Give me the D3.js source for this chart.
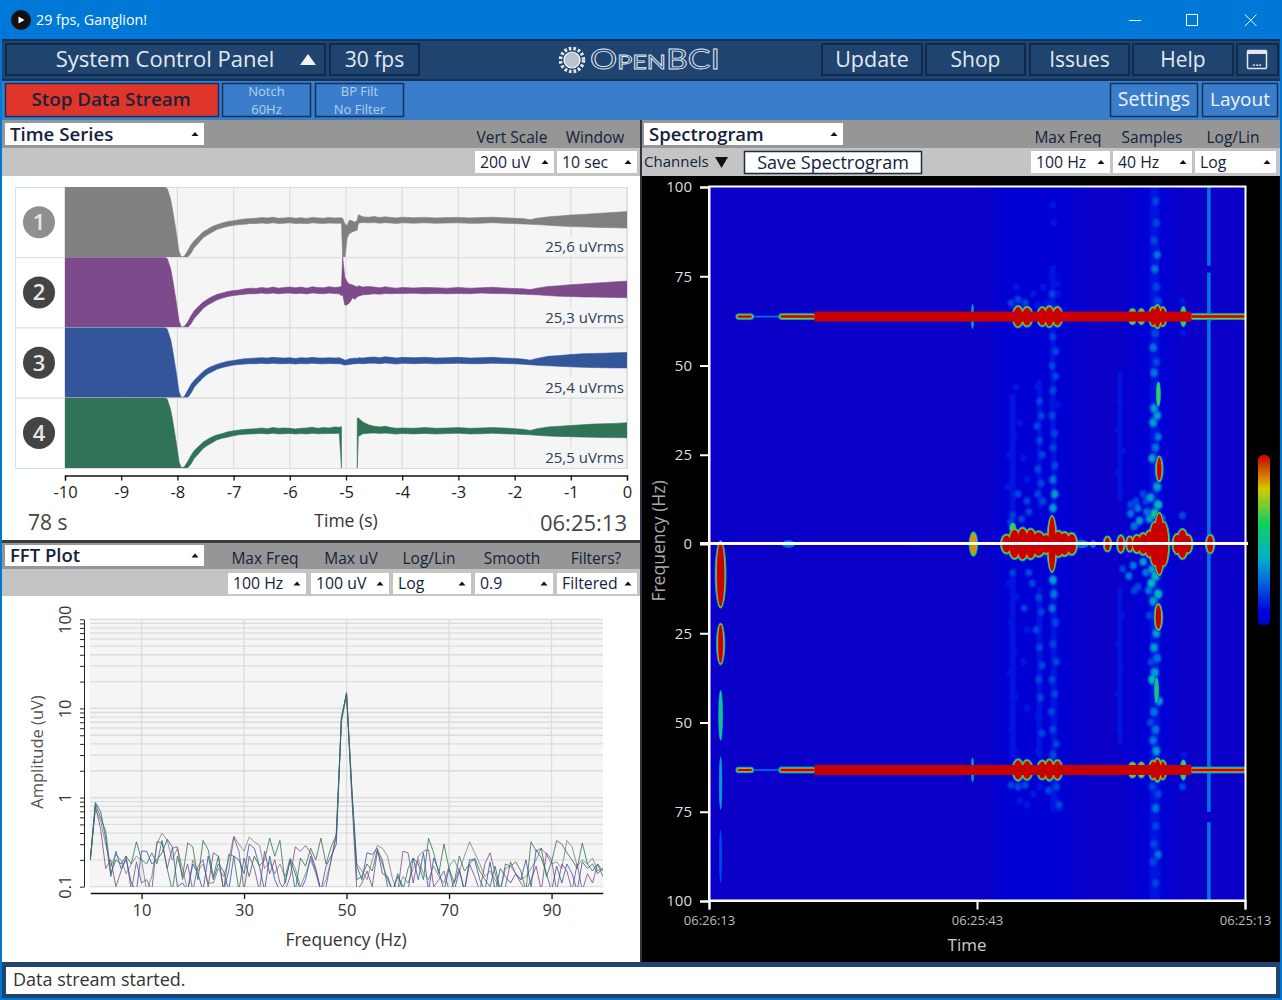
<!DOCTYPE html>
<html>
<head>
<meta charset="utf-8">
<title>29 fps, Ganglion!</title>
<style>
  html, body { margin: 0; padding: 0; background: #fff; }
  svg { display: block; }
  text { font-family: "Open Sans", sans-serif; }
</style>
<script src="https://d3js.org/d3.v7.min.js"></script>
</head>
<body>
<div id="app"></div>
<script>
  // ---- time series: seconds, then min/max envelope of each channel in uV
  const tsTimes = [-10,-8.22,-8.18,-8.12,-8.08,-8.02,-7.97,-7.93,-7.88,-7.82,
    -7.76,-7.7,-7.62,-7.54,-7.46,-7.38,-7.3,-7.2,-7.1,-7,
    -6.9,-6.8,-6.7,-6.6,-6.5,-6.4,-6.3,-6.2,-6.1,-6,
    -5.9,-5.8,-5.7,-5.6,-5.5,-5.4,-5.3,-5.2,-5.12,-5.08,
    -5.06,-5.02,-4.98,-4.94,-4.88,-4.84,-4.8,-4.78,-4.7,-4.6,
    -4.5,-4.4,-4.3,-4.2,-4.1,-4,-3.8,-3.6,-3.4,-3.2,
    -3,-2.8,-2.6,-2.4,-2.2,-2,-1.85,-1.72,-1.6,-1.4,
    -1.2,-1,-0.8,-0.6,-0.4,-0.2,0];
  const ch1Upper = [200,200,190,130,60,-60,-170,-198,-195,-165,
    -130,-105,-80,-55,-40,-25,-15,-5,4,8,
    14,18,20,22,26,24,28,22,24,26,
    22,25,21,27,24,22,26,23,25,24,
    22,-10,-20,12,5,0,10,42,30,28,
    32,26,30,27,24,28,25,27,24,26,
    27,24,26,28,25,22,20,14,22,30,
    35,40,44,48,52,56,60];
  const ch1Lower = [-200,-200,-200,-200,-200,-200,-200,-200,-200,-200,
    -178,-145,-118,-88,-72,-57,-42,-32,-24,-18,
    -14,-12,-8,-8,-5,-8,-4,-8,-6,-4,
    -8,-6,-9,-4,-6,-8,-5,-7,-6,-6,
    -200,-200,-90,-65,-55,-50,-45,-6,-2,-4,
    -2,-6,-3,-5,-8,-4,-6,-4,-7,-5,
    -4,-7,-6,-3,-6,-8,-10,-12,-14,-18,
    -22,-25,-27,-29,-31,-32,-34];
  const ch2Upper = [200,200,192,135,65,-55,-165,-198,-195,-170,
    -135,-105,-78,-55,-38,-24,-12,-3,5,10,
    14,20,24,22,28,24,30,24,28,30,
    26,30,24,32,28,26,32,28,30,34,
    200,84,60,48,42,36,30,38,30,34,
    30,26,32,27,24,28,25,28,26,24,
    28,24,26,29,25,22,20,16,24,34,
    38,44,48,52,56,60,64];
  const ch2Lower = [-200,-200,-200,-200,-200,-200,-200,-200,-200,-200,
    -180,-148,-120,-90,-72,-58,-44,-32,-24,-18,
    -14,-10,-8,-8,-4,-8,-4,-8,-5,-4,
    -8,-5,-9,-3,-6,-8,-4,-7,-8,-20,
    -10,-73,-70,-60,-30,-40,-25,-22,-14,-12,
    -8,-10,-6,-8,-6,-7,-5,-8,-6,-8,
    -6,-8,-4,-6,-7,-9,-10,-12,-14,-18,
    -22,-24,-26,-27,-28,-29,-30];
  const ch3Upper = [200,200,190,132,62,-58,-168,-198,-195,-160,
    -125,-100,-75,-50,-32,-20,-10,0,8,12,
    18,22,24,26,28,26,30,28,26,28,
    24,28,26,30,27,26,28,26,28,24,
    20,14,16,22,24,26,24,28,26,30,
    32,28,34,30,26,30,28,30,26,28,
    30,26,28,30,26,24,20,14,24,36,
    40,46,50,52,54,56,58];
  const ch3Lower = [-200,-200,-200,-200,-200,-200,-200,-200,-200,-200,
    -175,-140,-112,-85,-65,-52,-38,-28,-20,-14,
    -10,-8,-6,-6,-4,-6,-3,-6,-6,-5,
    -8,-5,-7,-3,-6,-7,-5,-6,-6,-8,
    -12,-14,-12,-10,-8,-6,-6,-5,-6,-4,
    -3,-6,-2,-5,-8,-4,-6,-4,-7,-5,
    -4,-6,-6,-3,-5,-7,-9,-12,-15,-18,
    -21,-24,-26,-28,-29,-30,-30];
  const ch4Upper = [200,200,191,133,63,-56,-166,-198,-195,-165,
    -130,-100,-76,-52,-36,-22,-12,-4,6,12,
    16,20,22,24,28,24,30,26,28,26,
    22,26,28,32,26,30,28,34,32,36,
    null,null,null,null,null,null,84,85,62,46,
    38,34,38,30,26,28,26,30,26,28,
    30,26,28,30,28,24,20,14,24,34,
    38,42,46,50,52,54,58];
  const ch4Lower = [-200,-200,-200,-200,-200,-200,-200,-200,-200,-200,
    -178,-145,-118,-88,-70,-56,-40,-30,-24,-16,
    -10,-8,-6,-5,-3,-6,-2,-6,-5,-3,
    -6,-4,-6,-2,-5,-4,-3,-4,-2,-200,
    null,null,null,null,null,null,-200,-20,-5,-2,
    0,-3,-1,-4,-7,-3,-6,-3,-6,-4,
    -2,-6,-5,-2,-5,-7,-9,-11,-14,-18,
    -20,-22,-24,-25,-26,-27,-28];
  const channelNames = ["1","2","3","4"];
  const channelColors = ["#808080","#7d4a8b","#33569b","#317357"];
  const channelBadges = ["#8f8f8f","#444444","#444444","#444444"];
  const rmsLabels = ["25,6 uVrms","25,3 uVrms","25,4 uVrms","25,5 uVrms"];
  const tsTicks = [-10,-9,-8,-7,-6,-5,-4,-3,-2,-1,0];

  // ---- FFT: amplitude in uV per 1 Hz bin, anything under 0.1 falls off the plot
  const fftFreqs = [0,1,2,3,4,5,6,7,8,9,10,11,12,13,14,15,16,17,18,19,20,21,22,23,24,25,26,27,28,29,
    30,31,32,33,34,35,36,37,38,39,40,41,42,43,44,45,46,47,48,49,50,51,52,53,54,55,56,57,58,59,
    60,61,62,63,64,65,66,67,68,69,70,71,72,73,74,75,76,77,78,79,80,81,82,83,84,85,86,87,88,89,
    90,91,92,93,94,95,96,97,98,99,100];
  const fftCh1 = [.2,.75,.55,.3,.17,.23,.2,.14,.18,.22,
    .2,.09,.13,.3,.4,.33,.2,.27,.16,.09,
    .2,.15,.18,.11,.11,.16,.13,.2,.37,.3,
    .25,.36,.32,.29,.16,.19,.14,.18,.13,.21,
    .16,.1,.14,.2,.14,.09,.12,.2,.36,7,
    14,1.2,.18,.15,.12,.2,.29,.27,.22,.12,
    .09,.13,.11,.16,.2,.14,.12,.17,.13,.11,
    .17,.2,.15,.22,.32,.24,.18,.13,.15,.12,
    .09,.16,.17,.14,.12,.13,.16,.2,.27,.23,
    .18,.19,.16,.33,.28,.17,.2,.18,.21,.15,.16];
  const fftCh2 = [.2,.8,.45,.16,.2,.1,.15,.22,.09,.19,
    .11,.12,.09,.32,.31,.16,.27,.28,.12,.18,
    .09,.17,.2,.1,.24,.22,.09,.15,.36,.25,
    .09,.22,.16,.09,.25,.14,.2,.11,.09,.13,
    .28,.25,.29,.24,.16,.09,.1,.2,.4,7.5,
    15,1.1,.09,.11,.15,.1,.25,.18,.12,.09,
    .09,.25,.24,.11,.22,.25,.26,.1,.12,.15,
    .09,.11,.16,.09,.18,.13,.09,.18,.24,.14,
    .09,.1,.19,.14,.11,.09,.12,.17,.09,.24,
    .2,.09,.18,.15,.09,.18,.09,.14,.11,.18,.15];
  const fftCh3 = [.2,.88,.7,.35,.13,.25,.16,.2,.11,.09,
    .25,.25,.18,.2,.24,.34,.28,.1,.11,.09,
    .18,.14,.09,.22,.12,.18,.15,.09,.22,.2,
    .14,.3,.27,.17,.09,.22,.12,.09,.11,.2,
    .14,.09,.12,.22,.15,.09,.17,.22,.3,8,
    14.5,1.3,.17,.12,.24,.23,.27,.14,.13,.09,
    .13,.1,.09,.21,.12,.24,.09,.21,.15,.09,
    .16,.09,.15,.09,.2,.2,.12,.09,.19,.09,
    .16,.13,.11,.14,.12,.2,.1,.26,.21,.14,
    .09,.17,.11,.18,.14,.09,.19,.16,.18,.14,.16];
  const fftCh4 = [.2,.85,.6,.42,.14,.2,.18,.22,.18,.32,
    .2,.18,.24,.18,.33,.16,.09,.22,.13,.31,
    .28,.12,.33,.26,.13,.22,.09,.23,.22,.09,
    .21,.13,.22,.17,.2,.35,.22,.33,.11,.2,
    .09,.21,.17,.27,.2,.35,.18,.28,.38,7.8,
    15,1.4,.12,.13,.18,.15,.26,.2,.1,.09,
    .14,.09,.16,.21,.18,.12,.35,.24,.14,.3,
    .16,.11,.22,.15,.18,.21,.15,.12,.1,.17,
    .09,.18,.17,.19,.15,.09,.32,.25,.27,.13,
    .19,.33,.3,.24,.2,.16,.31,.18,.15,.18,.13];
  const fftXTicks = [10,30,50,70,90];
  const fftYMajor = [0.1,1,10,100];
  const fftYMinor = [.2,.3,.4,.5,.6,.7,.8,.9,2,3,4,5,6,7,8,9,20,30,40,50,60,70,80,90];

  // ---- spectrogram, read off by eye. t = seconds from the left edge, hz signed (top half +, bottom half -)
  // [t0, t1, hz, halfHz] full power line noise
  const solidBands = [[11.8,54,63.7,1.4],[11.8,54,-63.3,1.4]];
  // [t0, t1, hz, halfHz, level]
  const thinBands = [
    [3.2,4.8,63.7,.3,1],[4.8,8,63.7,.12,.32],[8,11.8,63.7,.35,1],[54,60,63.7,.35,1],
    [3.2,4.8,-63.3,.3,1],[4.8,8,-63.3,.12,.32],[8,11.8,-63.3,.35,1],[54,60,-63.3,.35,1]];
  // [t, hz, halfT, halfHz, level]
  const blobs = [
    // lumps on the 63 Hz line
    [34.6,63.7,.5,2.7,1],[35.6,63.7,.5,2.5,1],[37.3,63.7,.45,2.4,1],[38.1,63.7,.45,2.7,1],[39,63.7,.45,2.5,1],
    [50.2,63.7,.35,3,1],[49.7,63.7,.35,2.4,1],[50.8,63.7,.3,2.4,1],[47.4,63.7,.35,1.9,.9],[48.4,63.7,.3,1.9,.9],
    [53.1,63.7,.25,2.6,.72],[29.5,63.7,.12,3.4,.4],[56,63.7,.3,1.4,.35],
    [34.6,-63.3,.5,2.7,1],[35.6,-63.3,.5,2.5,1],[37.3,-63.3,.45,2.4,1],[38.1,-63.3,.45,2.7,1],[39,-63.3,.45,2.5,1],
    [50.2,-63.3,.35,3,1],[49.7,-63.3,.35,2.4,1],[50.8,-63.3,.3,2.4,1],[47.4,-63.3,.35,1.9,.9],[48.4,-63.3,.3,1.9,.9],
    [53.1,-63.3,.25,2.6,.72],[29.5,-63.3,.12,3.4,.4],[56,-63.3,.3,1.4,.35],
    // around 0 Hz, scalloped mass
    [33.3,0,.5,2.4,1],[34.2,0,.6,3.9,1],[35.1,0,.6,4.3,1],[36,0,.6,4,1],[36.9,0,.7,3.3,1],[37.7,0,.6,2.5,1],
    [38.4,0,.4,7.6,1],[39.1,0,.6,3.4,1],[39.8,0,.6,3.1,1],[40.6,0,.5,2.8,1],
    [49.9,0,.55,6,1],[50.4,0,.5,8.5,1],[50.9,0,.5,6,1],[49.3,0,.5,3.5,1],[48.6,0,.5,2.8,1],[47.9,0,.45,2.3,1],
    [53,0,.55,3.9,1],[52.4,0,.4,2.6,1],[53.6,0,.4,2.4,1],[56.1,0,.35,2.4,1],
    [29.6,0,.3,3,.95],[44.6,0,.3,1.8,1],[46.1,0,.3,2.2,1],[47.1,0,.3,1.9,1],[8.9,0,.7,1,.3],
    [41.6,0,.9,1.1,.35],[43,0,.3,1,.3],[34,4.5,.25,1.2,.7],[23,0,.5,.6,.16],
    // column of lobes at the far left, bottom half only
    [1.3,-8.5,.42,9,1],[1.3,-28,.28,5.4,1],[1.3,-48,.14,6.8,.62],[1.3,-67,.14,7.4,.36],[1.3,-87.5,.14,7.4,.26],
    // hot spots in the 50 s column
    [50.4,21,.25,3.2,1],[50.3,-20.5,.3,3.4,1],[50.3,42,.15,3.2,.66],[50.1,-41,.16,3.4,.62]];
  // [t, hz, level] small speckle in the vertical streaks
  const speckles = [
    [50,96,.24],[50.1,90,.22],[49.8,85,.26],[50.2,81,.28],[49.9,77,.28],[50.1,72,.22],[50.3,68,.26],[50,59,.26],
    [49.7,55,.28],[50.1,51,.26],[49.8,48,.34],[49.8,38,.36],[50.2,36,.38],[49.7,34,.38],[50.3,30,.28],[50,27,.28],
    [49.6,24,.38],[50.2,16,.44],[49.4,13,.38],[50.3,11,.5],[49.9,8.5,.55],[50.6,7,.45],[48,10,.3],[47.2,8.5,.3],
    [48.2,6.5,.36],[47.6,5,.34],[48.9,12,.26],[49.3,7,.36],[53,8,.26],[47.8,12,.26],[47.2,11,.24],[48.6,14,.24],[49,9,.32],
    [50,-9,.5],[49.5,-11,.45],[50.3,-14,.5],[49.7,-16,.4],[50.1,-25,.36],[49.8,-29,.38],[50.2,-32,.34],[49.9,-36,.4],
    [49.6,-38,.45],[50.4,-44,.38],[49.8,-47,.32],[50,-52,.3],[49.7,-55,.34],[50.1,-58,.38],[50.3,-70,.26],[50,-74,.28],
    [49.8,-84,.26],[50.3,-87,.3],[49.7,-89,.24],[50,-95,.2],[47.5,-6,.3],[47,-9,.28],[48,-12,.26],[46.3,-7,.2],
    [48.6,-5,.36],[48.9,-8,.3],[47.6,-13,.24],[49.2,-13,.3],[49.6,-7,.4],[49.3,-20,.22],[49.5,-33,.24],[49.4,-50,.22],[49.6,-68,.22],[50,-79,.2],
    [38.5,95,.13],[38.6,90,.13],[38.4,75,.16],[39,70,.16],[38.5,58,.2],[38.8,54,.22],[38.4,50,.22],[38.8,47,.2],
    [38.5,43,.24],[39,39,.18],[38.4,36,.22],[38.7,31,.24],[38.5,27,.24],[38.7,22,.26],[38.5,18,.3],[38.7,14,.38],[38.5,10,.4],
    [38.5,-10,.4],[38.6,-14,.34],[38.4,-18,.28],[38.8,-22,.24],[38.5,-28,.24],[38.9,-33,.22],[38.4,-38,.22],[38.7,-42,.22],
    [38.3,-47,.22],[38.5,-52,.22],[38.9,-56,.2],[38.5,-59,.24],[38.9,-68,.22],[39.2,-73,.2],
    [36.8,44,.18],[37,40,.2],[37.2,36,.2],[36.7,33,.2],[37,29,.2],[37.3,25,.2],[36.8,21,.22],[37.2,17,.2],[36.8,14,.2],[37.4,12,.22],
    [36.9,-15,.2],[37.2,-19,.2],[36.6,-24,.2],[37,-29,.2],[37.3,-34,.2],[36.9,-38,.2],[37.1,-43,.2],[36.8,-48,.18],[37.3,-53,.2],[36.9,-58,.18],
    [34,38,.15],[34.2,30,.15],[33.6,25,.15],[34,20,.17],[33.5,16,.15],[34.6,14,.2],[35.6,12,.2],[34,8,.2],[33.8,6,.26],[35,7,.22],
    [35.8,9,.24],[35.6,18,.18],[35.2,24,.17],[34.8,34,.15],[34.4,44,.14],
    [34,-8,.2],[33.6,-11,.18],[34.4,-15,.17],[35.3,-18,.2],[33.8,-22,.17],[34.2,-30,.15],[33.7,-36,.15],[34.3,-43,.15],[33.8,-52,.15],[34.2,-58,.17],
    [35.8,-8,.24],[36.2,-11,.22],[35.6,-24,.17],[35.2,-33,.17],[35.6,-46,.17],
    [46,40,.13],[45.8,32,.13],[46.3,26,.13],[45.8,20,.14],[46,15,.14],[46.2,-20,.14],[45.8,-28,.14],[46.1,-35,.14],[45.8,-42,.13],[46,-52,.13],
    [33.8,67.5,.2],[34.6,68.5,.24],[35.4,67.5,.26],[36.3,70,.17],[36.8,67,.18],[37.8,67.5,.18],[38.4,70,.2],[39,73,.15],[37.4,72,.14],[34.4,72,.14],
    [33.8,-67.5,.2],[34.6,-68,.26],[35.4,-67.5,.26],[36.3,-70,.17],[37,-68,.18],[38,-69,.2],[38.8,-72,.17],[39.3,-74,.15],[34.8,-72,.15],[35.6,-73,.14],
    [50.2,68,.26],[53,68,.18],[53.1,59,.18],[53,-68,.2],[53.2,-59,.18]];
  // [t, hz0, hz1, halfT, level] thin full height streaks
  const lineStreaks = [[55.95,78,100,.17,.3],[55.95,1,76,.17,.3],[55.95,-1,-75,.17,.3],[55.95,-78,-100,.17,.3]];
  const softStreaks = [[49.9,4,100,.5,.16],[49.9,-4,-100,.55,.16],[38.5,30,78,.3,.13],[38.6,10,30,.3,.14],[38.6,-10,-75,.35,.14],
    [37,10,46,.3,.125],[37,-12,-60,.35,.125],[34,8,42,.3,.125],[34,-8,-60,.3,.125],[46,12,48,.25,.12],[46,-12,-56,.25,.12]];
  // [t0, t1, level] faint lifts of the background
  const washes = [[32,41,.035],[47,52,.04]];
  const specLevels = [.12,.2,.28,.36,.45,.55,.65,.75,.85,1];
  const colorStops = [0,.08,.25,.4,.6,.8,1];
  const colorRange = ["#0a00c8","#0000e0","#0064e0","#00b4c8","#10d060","#d8c800","#c80000"];
  const specYTicks = [100,75,50,25,0,-25,-50,-75,-100];
  const specXTicks = [0,30,60];
  const specXLabels = ["06:26:13","06:25:43","06:25:13"];

  const tsUpper = [ch1Upper,ch2Upper,ch3Upper,ch4Upper];
  const tsLower = [ch1Lower,ch2Lower,ch3Lower,ch4Lower];
  const fftSeries = [fftCh1,fftCh2,fftCh3,fftCh4];

  const svg = d3.select("#app").append("svg").attr("width",1282).attr("height",1000);
  const defs = svg.append("defs");
  const ink = "#13233c";

  function box(x,y,w,h,fill,stroke,sw) {
    return svg.append("rect").attr("x",x).attr("y",y).attr("width",w).attr("height",h)
      .attr("fill",fill).attr("stroke",stroke||"none").attr("stroke-width",sw||0);
  }
  function label(x,y,s,size,fill,anchor,weight,parent) {
    return (parent||svg).append("text").attr("x",x).attr("y",y).text(s)
      .attr("font-size",size).attr("fill",fill).attr("text-anchor",anchor||"start")
      .attr("font-weight",weight||400);
  }
  function navButton(x,y,w,h,s,size,fill,color,cx) {
    box(x+1,y+1,w-2,h-2,fill,"#0f2a4c",2);
    label(cx||x+w/2,y+h/2+size*.36,s,size,color,"middle");
  }
  function caret(x,y) {
    svg.append("path").attr("d",d3.line()([[x-3.5,y+2],[x+3.5,y+2],[x,y-2]])+"Z").attr("fill","#111");
  }
  function dropdown(x,y,w,h,s,size,weight) {
    box(x,y,w,h,"#fff");
    label(x+5,y+h/2+size*.36,s,size,ink,"start",weight);
    caret(x+w-9,y+h/2);
  }

  // ---- window chrome
  box(0,0,1282,1000,"#0078d7");
  box(0,40,1282,40,"#1f4470");
  box(0,39,1282,2,"#123054");
  box(0,80,1282,40,"#3a7dca");
  box(0,79,1282,2,"#12325a");
  svg.append("circle").attr("cx",21).attr("cy",20).attr("r",10).attr("fill","#111");
  svg.append("path").attr("d","M18.5 16.5L24.5 20L18.5 23.5Z").attr("fill","#fff");
  label(36,25,"29 fps, Ganglion!",14.3,"#fff");
  svg.append("path").attr("d","M1129 20.5H1141M1186.5 14.5H1197.5V25.5H1186.5ZM1245 14.5L1256.5 26M1256.5 14.5L1245 26")
    .attr("stroke","#fff").attr("stroke-width",1).attr("fill","none");

  navButton(5,43,321,33,"System Control Panel",22,"#1f4470","#e4e8ee",165);
  svg.append("path").attr("d","M300 65H316L308 54Z").attr("fill","#f2f2f2");
  navButton(329,43,91,33,"30 fps",21,"#1f4470","#e4e8ee");
  navButton(821,43,102,33,"Update",21.5,"#1f4470","#e4e8ee");
  navButton(925,43,101,33,"Shop",21,"#1f4470","#e4e8ee");
  navButton(1029,43,101,33,"Issues",21,"#1f4470","#e4e8ee");
  navButton(1132,43,102,33,"Help",21,"#1f4470","#e4e8ee");
  navButton(1236,43,43,33,"",21,"#1f4470","#e4e8ee");
  svg.append("rect").attr("x",1247.5).attr("y",50.5).attr("width",19).attr("height",18).attr("rx",1)
    .attr("fill","none").attr("stroke","#e4e8ee").attr("stroke-width",1.5);
  box(1248,50,18,4,"#e4e8ee");
  label(1257,66,"...",11,"#e4e8ee","middle",700);
  // logo
  svg.append("circle").attr("cx",572).attr("cy",60).attr("r",11.5).attr("fill","none")
    .attr("stroke","#e8e8e8").attr("stroke-width",3.5).attr("stroke-dasharray","2.6 2");
  svg.append("circle").attr("cx",572).attr("cy",60).attr("r",8).attr("fill","#b8c4d2").attr("stroke","#fff").attr("stroke-width",1.2);
  const logo = label(590,69,"",27,"none","start",400).style("font-family","Lato")
    .attr("stroke","#e8eef4").attr("stroke-width",.8)
    .attr("textLength",130).attr("lengthAdjust","spacingAndGlyphs");
  logo.append("tspan").text("O");
  logo.append("tspan").text("PEN").attr("font-size",20);
  logo.append("tspan").text("BCI");

  box(5.5,83.5,213,33,"#e0352b","#12325a",1.5);
  label(111,106,"Stop Data Stream",18.8,"#1a2238","middle",600);
  box(222.5,83.5,88,33,"#3a7dca","#12325a",1.5);
  label(266.5,96,"Notch",13,"#b4d0ee","middle");
  label(266.5,113.7,"60Hz",13,"#b4d0ee","middle");
  box(315.5,83.5,88,33,"#3a7dca","#12325a",1.5);
  label(359.5,96,"BP Filt",13,"#b4d0ee","middle");
  label(359.5,113.7,"No Filter",13,"#b4d0ee","middle");
  box(1110.5,83.5,87,33,"#3a7dca","#12325a",1.5);
  label(1154,106,"Settings",19.5,"#f0f4fa","middle");
  box(1202.5,83.5,75,33,"#3a7dca","#12325a",1.5);
  label(1240,106,"Layout",19,"#f0f4fa","middle");

  // ---- panels
  box(2,120,638,843,"#fff");
  box(640,120,2,843,"#30343c");
  box(642,120,638,843,"#000");
  box(2,120,638,28,"#969696");
  box(2,148,638,28,"#c4c4c4");
  box(642,120,638,28,"#969696");
  box(642,148,638,28,"#c4c4c4");
  box(2,540,638,3,"#3c3c3c");
  box(2,543,638,26,"#969696");
  box(2,569,638,27,"#c4c4c4");

  dropdown(5,123,199,22,"Time Series",18.7,600);
  label(512,143,"Vert Scale",15.5,ink,"middle");
  label(595,143,"Window",15.5,ink,"middle");
  dropdown(475,151,79,22,"200 uV",15.8);
  dropdown(557,151,80,22,"10 sec",15.8);

  dropdown(5,545,199,21,"FFT Plot",18.5,600);
  label(265,564,"Max Freq",15.5,ink,"middle");
  label(351,564,"Max uV",15.5,ink,"middle");
  label(429,564,"Log/Lin",15.5,ink,"middle");
  label(512,564,"Smooth",15.5,ink,"middle");
  label(596,564,"Filters?",15.5,ink,"middle");
  dropdown(228,573,78,21,"100 Hz",15.8);
  dropdown(311,573,78,21,"100 uV",15.8);
  dropdown(393,573,78,21,"Log",15.8);
  dropdown(475,573,78,21,"0.9",15.8);
  dropdown(557,573,80,21,"Filtered",15.8);

  dropdown(644,123,199,22,"Spectrogram",18.5,600);
  label(1068,143,"Max Freq",15.5,ink,"middle");
  label(1152,143,"Samples",15.5,ink,"middle");
  label(1233,143,"Log/Lin",15.5,ink,"middle");
  label(644,167,"Channels",15,ink);
  svg.append("path").attr("d","M715 157H728L721.5 168Z").attr("fill","#111");
  box(744.5,151.5,177,22,"#fff","#1a2c48",1.5);
  label(833,169,"Save Spectrogram",18,ink,"middle");
  dropdown(1031,151,79,22,"100 Hz",15.8);
  dropdown(1113,151,79,22,"40 Hz",15.8);
  dropdown(1195,151,81,22,"Log",15.8);

  box(0,962,1282,38,"#1f4470");
  box(6,967,1270,27,"#fff");
  label(13,986,"Data stream started.",18,"#333");
  box(0,998,1282,2,"#0078d7");
  box(0,0,2,1000,"#0078d7");
  box(1280,0,2,1000,"#0078d7");

  // ---- time series
  const tsX = d3.scaleLinear().domain([-10,0]).range([65,627]);
  const rowTops = d3.scaleBand().domain(channelNames).range([187,468]).paddingInner(0);
  const tsY = d3.scaleLinear().domain([-200,200]).range([rowTops.bandwidth(),0]);

  const tsG = svg.append("g");
  channelNames.forEach((name,c) => {
    const g = tsG.append("g").attr("transform",`translate(0,${rowTops(name)})`);
    const h = rowTops.bandwidth();
    g.append("rect").attr("x",15.5).attr("y",.5).attr("width",612).attr("height",h).attr("fill","#fff").attr("stroke","#d4e0ee");
    g.append("rect").attr("x",65).attr("y",.5).attr("width",562).attr("height",h).attr("fill","#f5f5f5").attr("stroke","#dcdcdc");
    g.selectAll("line.grid").data(tsTicks).join("line").attr("class","grid")
      .attr("x1",d => tsX(d)).attr("x2",d => tsX(d)).attr("y1",0).attr("y2",h)
      .attr("stroke","#dcdcdc").attr("stroke-width",1.2);
    defs.append("clipPath").attr("id","row"+c).append("rect").attr("x",65).attr("y",0).attr("width",562).attr("height",h);
    const area = d3.area()
      .defined(i => tsUpper[c][i] !== null)
      .x(i => tsX(tsTimes[i]))
      .y0(i => tsY(tsLower[c][i]))
      .y1(i => tsY(tsUpper[c][i]));
    g.append("path").datum(d3.range(tsTimes.length)).attr("d",area)
      .attr("clip-path",`url(#row${c})`)
      .attr("fill",channelColors[c]).attr("stroke",channelColors[c]).attr("stroke-width",.6);
    g.append("circle").attr("cx",39).attr("cy",h/2).attr("r",16).attr("fill",channelBadges[c]);
    label(39,h/2+8,name,22,"#e8e8e8","middle",600,g);
    g.append("rect").attr("x",545).attr("y",h-21).attr("width",81).attr("height",20).attr("fill","#f5f5f5").attr("opacity",.85);
    label(624,h-5,rmsLabels[c],15,"#2c3e55","end",400,g);
  });

  const tsAxis = svg.append("g").attr("transform","translate(0,475.5)")
    .call(d3.axisBottom(tsX).tickValues(tsTicks).tickSize(5).tickPadding(6).tickFormat(d => String(d)));
  tsAxis.selectAll("text").attr("font-size",16.5).attr("fill","#222").style("font-family","'Open Sans'");
  tsAxis.selectAll("path,line").attr("stroke","#111").attr("stroke-width",1.3);
  label(28,530,"78 s",21,"#444");
  label(346,527,"Time (s)",17.5,"#333","middle");
  label(627,531,"06:25:13",22,"#444","end");

  // ---- FFT plot
  const fftX = d3.scaleLinear().domain([0,100]).range([90.3,602.8]);
  const fftY = d3.scaleLog().domain([0.1,100]).range([886.7,619.3]);
  box(90,619,513,268,"#f5f5f5");
  const fftG = svg.append("g");
  fftG.selectAll("line.h").data(fftYMajor.concat(fftYMinor)).join("line").attr("class","h")
    .attr("x1",90).attr("x2",603).attr("y1",d => fftY(d)).attr("y2",d => fftY(d))
    .attr("stroke","#dcdcdc").attr("stroke-width",1.3);
  fftG.selectAll("line.v").data(fftXTicks).join("line").attr("class","v")
    .attr("x1",d => fftX(d)).attr("x2",d => fftX(d)).attr("y1",619).attr("y2",887)
    .attr("stroke","#dcdcdc").attr("stroke-width",1.3);
  defs.append("clipPath").attr("id","fftClip").append("rect").attr("x",90).attr("y",619).attr("width",513).attr("height",268);
  const fftLine = d3.line().x((d,i) => fftX(fftFreqs[i])).y(d => fftY(d));
  fftG.selectAll("path.s").data(fftSeries).join("path").attr("class","s")
    .attr("d",fftLine).attr("fill","none").attr("clip-path","url(#fftClip)")
    .attr("stroke",(d,i) => channelColors[i]).attr("stroke-width",.9).attr("opacity",.9);

  const fftBottom = svg.append("g").attr("transform","translate(0,893)")
    .call(d3.axisBottom(fftX).tickValues(fftXTicks).tickSize(6).tickSizeOuter(0).tickPadding(5));
  fftBottom.selectAll("text").attr("font-size",16.5).attr("fill","#333").style("font-family","'Open Sans'");
  fftBottom.selectAll("path,line").attr("stroke","#111").attr("stroke-width",1.3);
  const fftLeft = svg.append("g").attr("transform","translate(84,0)")
    .call(d3.axisLeft(fftY).tickValues(fftYMajor.concat(fftYMinor)).tickSize(4).tickSizeOuter(0)
      .tickFormat(d => fftYMajor.includes(d) ? String(d) : ""));
  fftLeft.selectAll("path,line").attr("stroke","#222").attr("stroke-width",1);
  fftLeft.selectAll("text").attr("font-size",16.5).attr("fill","#333").style("font-family","'Open Sans'")
    .attr("text-anchor","middle").attr("dy",0).attr("x",0).attr("y",0)
    .attr("transform","translate(-13,0) rotate(-90)");
  label(346,946,"Frequency (Hz)",17.5,"#333","middle");
  label(0,0,"Amplitude (uV)",16.5,"#555","middle").attr("transform","translate(43,752) rotate(-90)");

  // ---- spectrogram
  const specT = d3.scaleLinear().domain([0,60]).range([709,1245]);
  const specHz = d3.scaleLinear().domain([100,-100]).range([187,901]);
  const specColor = d3.scaleLinear().domain(colorStops).range(colorRange);
  const pxT = v => specT(v) - specT(0);
  const pxHz = v => specHz(0) - specHz(v);
  // halo around each mark: the lower the level, the further out from the core
  const halo = (level,t) => (level - t) * 2.8;

  defs.append("clipPath").attr("id","specClip").append("rect")
    .attr("x",specT(0)).attr("y",specHz(100)).attr("width",specT(60)-specT(0)).attr("height",specHz(-100)-specHz(100));
  const soft = defs.append("filter").attr("id","soft").attr("x","-5%").attr("y","-5%").attr("width","110%").attr("height","110%");
  soft.append("feGaussianBlur").attr("stdDeviation",.7);
  const cloud = defs.append("filter").attr("id","cloud").attr("x","-5%").attr("y","-5%").attr("width","110%").attr("height","110%");
  cloud.append("feGaussianBlur").attr("stdDeviation",1.3);
  const wide = defs.append("filter").attr("id","wide").attr("x","-30%").attr("y","-5%").attr("width","160%").attr("height","110%");
  wide.append("feGaussianBlur").attr("stdDeviation","8 0");

  const specG = svg.append("g").attr("clip-path","url(#specClip)");
  specG.append("rect").attr("x",specT(0)).attr("y",specHz(100)).attr("width",specT(60)-specT(0))
    .attr("height",specHz(-100)-specHz(100)).attr("fill",specColor(0));
  specG.append("g").attr("filter","url(#wide)").selectAll("rect").data(washes).join("rect")
    .attr("x",d => specT(d[0])).attr("width",d => specT(d[1])-specT(d[0]))
    .attr("y",specHz(100)).attr("height",specHz(-100)-specHz(100))
    .attr("fill",d => specColor(d[2]));

  // faint streaks and speckle sit under the hot marks, blurred further
  const clouds = specG.append("g").attr("filter","url(#cloud)");
  specLevels.forEach(t => {
    const g = clouds.append("g").attr("fill",specColor(t));
    g.selectAll("rect").data(softStreaks.filter(d => d[4] >= t)).join("rect")
      .attr("x",d => specT(d[0]) - pxT(d[3]))
      .attr("width",d => 2*pxT(d[3]))
      .attr("y",d => specHz(Math.max(d[1],d[2])))
      .attr("height",d => Math.abs(specHz(d[1])-specHz(d[2])));
    g.selectAll("ellipse").data(speckles.filter(d => d[2] >= t)).join("ellipse")
      .attr("cx",d => specT(d[0])).attr("cy",d => specHz(d[1]))
      .attr("rx",d => pxT(.36) + halo(d[2],t)).attr("ry",d => pxHz(1) + halo(d[2],t));
  });

  const heat = specG.append("g").attr("filter","url(#soft)");
  specLevels.forEach(t => {
    const g = heat.append("g").attr("fill",specColor(t));
    g.selectAll("rect.st").data(lineStreaks.filter(d => d[4] >= t)).join("rect").attr("class","st")
      .attr("x",d => specT(d[0]) - pxT(d[3]) - halo(d[4],t))
      .attr("width",d => 2*(pxT(d[3]) + halo(d[4],t)))
      .attr("y",d => specHz(Math.max(d[1],d[2])))
      .attr("height",d => Math.abs(specHz(d[1])-specHz(d[2])));
    g.selectAll("rect.tb").data(thinBands.filter(d => d[4] >= t)).join("rect").attr("class","tb")
      .attr("x",d => specT(d[0]) - halo(d[4],t))
      .attr("width",d => specT(d[1])-specT(d[0]) + 2*halo(d[4],t))
      .attr("y",d => specHz(d[2]) - pxHz(d[3]) - halo(d[4],t))
      .attr("height",d => 2*(pxHz(d[3]) + halo(d[4],t)))
      .attr("rx",d => pxHz(d[3]) + halo(d[4],t));
    g.selectAll("ellipse.b").data(blobs.filter(d => d[4] >= t)).join("ellipse").attr("class","b")
      .attr("cx",d => specT(d[0])).attr("cy",d => specHz(d[1]))
      .attr("rx",d => pxT(d[2]) + halo(d[4],t)).attr("ry",d => pxHz(d[3]) + halo(d[4],t));
  });
  specG.append("g").selectAll("rect").data(solidBands).join("rect")
    .attr("x",d => specT(d[0])).attr("width",d => specT(d[1])-specT(d[0]))
    .attr("y",d => specHz(d[2]+d[3])).attr("height",d => specHz(d[2]-d[3])-specHz(d[2]+d[3]))
    .attr("fill",specColor(1));

  // axes and frame
  svg.append("rect").attr("x",specT(0)).attr("y",specHz(100)-.5).attr("width",specT(60)-specT(0)+.5)
    .attr("height",specHz(-100)-specHz(100)).attr("fill","none").attr("stroke","#fff").attr("stroke-width",2);
  const specLeft = svg.append("g").attr("transform",`translate(${specT(0)},0)`)
    .call(d3.axisLeft(specHz).tickValues(specYTicks).tickSize(9).tickPadding(8).tickFormat(d => Math.abs(d)));
  specLeft.selectAll("path").attr("stroke","#fff").attr("stroke-width",2);
  specLeft.selectAll("line").attr("stroke","#fff").attr("stroke-width",2);
  specLeft.selectAll("text").attr("font-size",15).attr("fill","#ddd").style("font-family","'Open Sans'");
  const specBottom = svg.append("g").attr("transform",`translate(0,${specHz(-100)-.5})`)
    .call(d3.axisBottom(specT).tickValues(specXTicks).tickSize(9).tickPadding(6).tickFormat((d,i) => specXLabels[i]));
  specBottom.selectAll("path,line").attr("stroke","#fff").attr("stroke-width",2);
  specBottom.selectAll("text").attr("font-size",13).attr("fill","#bbb").style("font-family","'Open Sans'");
  svg.append("line").attr("x1",700).attr("x2",1248).attr("y1",specHz(0)-.5).attr("y2",specHz(0)-.5)
    .attr("stroke","#fff").attr("stroke-width",3);
  label(967,951,"Time",17,"#ccc","middle",400);
  label(0,0,"Frequency (Hz)",17.5,"#aaa","middle").attr("transform","translate(665,541) rotate(-90)");

  // colour bar
  const grad = defs.append("linearGradient").attr("id","barGrad").attr("x1",0).attr("x2",0).attr("y1",1).attr("y2",0);
  grad.selectAll("stop").data(colorStops).join("stop")
    .attr("offset",d => d).attr("stop-color",d => specColor(d));
  svg.append("rect").attr("x",1258).attr("y",455).attr("width",12).attr("height",170).attr("rx",5)
    .attr("fill","url(#barGrad)");
</script>
</body>
</html>
